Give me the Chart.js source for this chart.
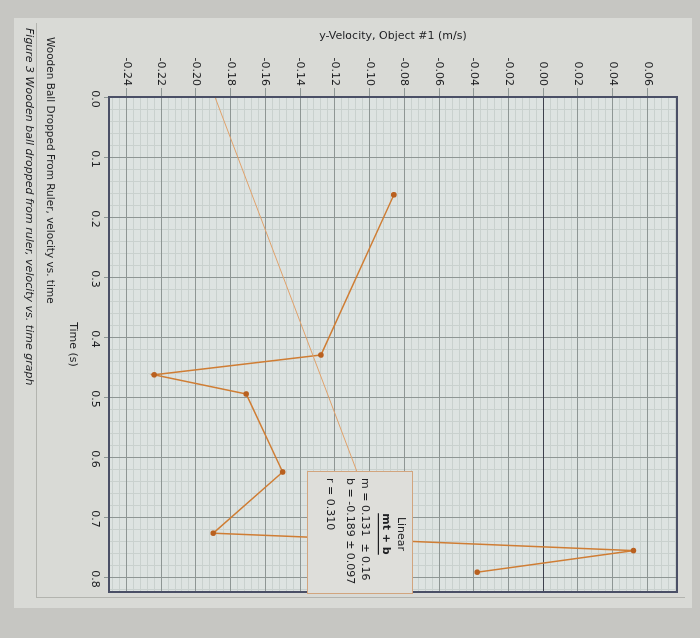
<!DOCTYPE html>
<html lang="en">
<head>
  <meta charset="UTF-8">
  <title>y-Velocity vs Time</title>
  <script src="https://cdn.jsdelivr.net/npm/chart.js@4.4.1/dist/chart.umd.min.js"></script>
</head>
<style>
  html, body { margin: 0; padding: 0; }
  body {
    width: 700px;
    height: 638px;
    overflow: hidden;
    position: relative;
    background: #c6c6c2;
  }
  #panel {
    position: absolute;
    left: 14px; top: 18px;
    width: 678px; height: 590px;
    background: #d9dad6;
  }
  #graphBox {
    position: absolute;
    left: 36px; top: 23px;
    width: 648px; height: 574px;
    border-left: 1px solid #b3b4af;
    border-bottom: 1px solid #b3b4af;
  }
  /* the photo shows the graph turned a quarter turn clockwise */
  #wrap {
    position: absolute;
    left: 0; top: 0;
    width: 638px; height: 700px;
    transform-origin: 0 0;
    transform: translate(700px, 0) rotate(90deg);
  }
</style>
<body>
  <div id="panel"></div>
  <div id="graphBox"></div>
  <div id="wrap">
    <canvas id="velChart" width="638" height="700"></canvas>
  </div>
  <script>
    // Datos
    const times = [0.163, 0.430, 0.463, 0.495, 0.625, 0.727, 0.756, 0.792];
    const velocities = [-0.086, -0.128, -0.224, -0.171, -0.150, -0.190, 0.052, -0.038];
    // Recta del ajuste lineal (extremos)
    const fitTimes = [0, 0.825];
    const fitVelocities = [-0.189, -0.081];
    // Ejes
    const timeRange = [0, 0.825];
    const timeStep = 0.1;
    const timeMinorStep = 0.02;
    const velRange = [-0.25, 0.077];
    const velStep = 0.02;
    const velMinorStep = 0.004;
    const fitLines = ['Linear', 'mt + b', 'm = 0.131  \u00b1 0.16', 'b = -0.189 \u00b1 0.097', 'r = 0.310'];
    const captionTitle = 'Wooden Ball Dropped From Ruler, velocity vs. time';
    const captionFigure = 'Figure 3 Wooden ball dropped from ruler, velocity vs. time graph';

    const FONT = '"DejaVu Sans", Verdana, sans-serif';
    const textColor = '#1e1f22';

    const plotBg = {
      id: 'plotBg',
      beforeDraw(chart) {
        const {ctx, chartArea: a} = chart;
        ctx.save();
        ctx.fillStyle = '#dde3e1';
        ctx.fillRect(a.left, a.top, a.right - a.left, a.bottom - a.top);
        ctx.restore();
      },
      afterDatasetsDraw(chart) {
        const {ctx, chartArea: a} = chart;
        ctx.save();
        ctx.strokeStyle = '#4a4f66';
        ctx.lineWidth = 2;
        ctx.strokeRect(a.left, a.top, a.right - a.left, a.bottom - a.top);
        ctx.restore();
      },
      afterDraw(chart) {
        const ctx = chart.ctx;
        ctx.save();
        // cuadro del ajuste
        const bx = 471, by = 287, bw = 123, bh = 106;
        ctx.fillStyle = '#dededa';
        ctx.fillRect(bx, by, bw, bh);
        ctx.strokeStyle = '#d2a57e';
        ctx.lineWidth = 1;
        ctx.strokeRect(bx + 0.5, by + 0.5, bw - 1, bh - 1);
        ctx.fillStyle = textColor;
        ctx.textBaseline = 'middle';
        ctx.textAlign = 'center';
        ctx.font = '11px ' + FONT;
        ctx.fillText(fitLines[0], 534, 299);
        ctx.font = 'bold 11px ' + FONT;
        ctx.fillText(fitLines[1], 534, 314);
        const w = ctx.measureText(fitLines[1]).width;
        ctx.fillRect(534 - w / 2, 321, w, 1.2);
        ctx.textAlign = 'left';
        ctx.font = '11px ' + FONT;
        ctx.fillText(fitLines[2], 478, 335);
        ctx.fillText(fitLines[3], 478, 350);
        ctx.fillText(fitLines[4], 478, 370);
        // pie de figura
        ctx.font = '10.5px ' + FONT;
        ctx.fillText(captionTitle, 37, 650);
        ctx.font = 'italic 11px ' + FONT;
        ctx.fillText(captionFigure, 28, 671);
        ctx.restore();
      }
    };

    const ctx = document.getElementById('velChart').getContext('2d');
    new Chart(ctx, {
      type: 'scatter',
      data: {
        datasets: [{
          label: 'Linear fit',
          data: fitTimes.map((t, i) => ({x: t, y: fitVelocities[i]})),
          showLine: true,
          borderColor: '#e0a26c',
          borderWidth: 1,
          pointRadius: 0
        }, {
          label: 'y-Velocity, Object #1',
          data: times.map((t, i) => ({x: t, y: velocities[i]})),
          showLine: true,
          borderColor: '#cf7d34',
          backgroundColor: '#b9601f',
          borderWidth: 1.5,
          pointRadius: 2.8,
          pointBorderWidth: 0
        }]
      },
      options: {
        responsive: false,
        animation: false,
        layout: { padding: {left: 0, top: 23, right: 46, bottom: 60} },
        plugins: { legend: {display: false}, tooltip: {enabled: false} },
        scales: {
          xMinor: {
            type: 'linear', position: 'bottom', z: -1,
            min: timeRange[0], max: timeRange[1],
            ticks: {display: false, stepSize: timeMinorStep, includeBounds: false},
            grid: {color: '#c9d1ce', drawTicks: false},
            border: {display: false},
            afterFit(s) { s.height = 0; }
          },
          yMinor: {
            type: 'linear', position: 'left', z: -1,
            min: velRange[0], max: velRange[1],
            ticks: {display: false, stepSize: velMinorStep, includeBounds: false},
            grid: {color: '#c9d1ce', drawTicks: false},
            border: {display: false},
            afterFit(s) { s.width = 0; }
          },
          x: {
            type: 'linear', position: 'bottom',
            min: timeRange[0], max: timeRange[1],
            ticks: {
              stepSize: timeStep, includeBounds: false, maxRotation: 0, autoSkip: false,
              padding: 3, color: textColor, font: {family: FONT, size: 11},
              labelOffset: 2,
              callback: v => v.toFixed(1)
            },
            grid: {color: '#8e9694', tickLength: 5, tickColor: '#8e9694'},
            border: {display: false},
            title: {
              display: true, text: 'Time (s)', color: textColor,
              font: {family: FONT, size: 11}, padding: {top: 0, bottom: 6}
            },
            afterFit(s) { s.height = 49; }
          },
          y: {
            type: 'linear', position: 'left',
            min: velRange[0], max: velRange[1],
            ticks: {
              stepSize: velStep, includeBounds: false, autoSkip: false,
              padding: 2, color: textColor, font: {family: FONT, size: 11},
              callback: v => (Math.abs(v) < 1e-9 ? 0 : v).toFixed(2)
            },
            grid: {
              color: c => (c.tick && Math.abs(c.tick.value) < 1e-9) ? '#3d404c' : '#8e9694',
              tickLength: 9, tickColor: '#8e9694'
            },
            border: {display: false},
            title: {
              display: true, text: 'y-Velocity, Object #1 (m/s)', color: textColor,
              font: {family: FONT, size: 11}, padding: {top: 30, bottom: 0}
            },
            afterFit(s) { s.width = 97; }
          }
        }
      },
      plugins: [plotBg]
    });
  </script>
</body>
</html>
